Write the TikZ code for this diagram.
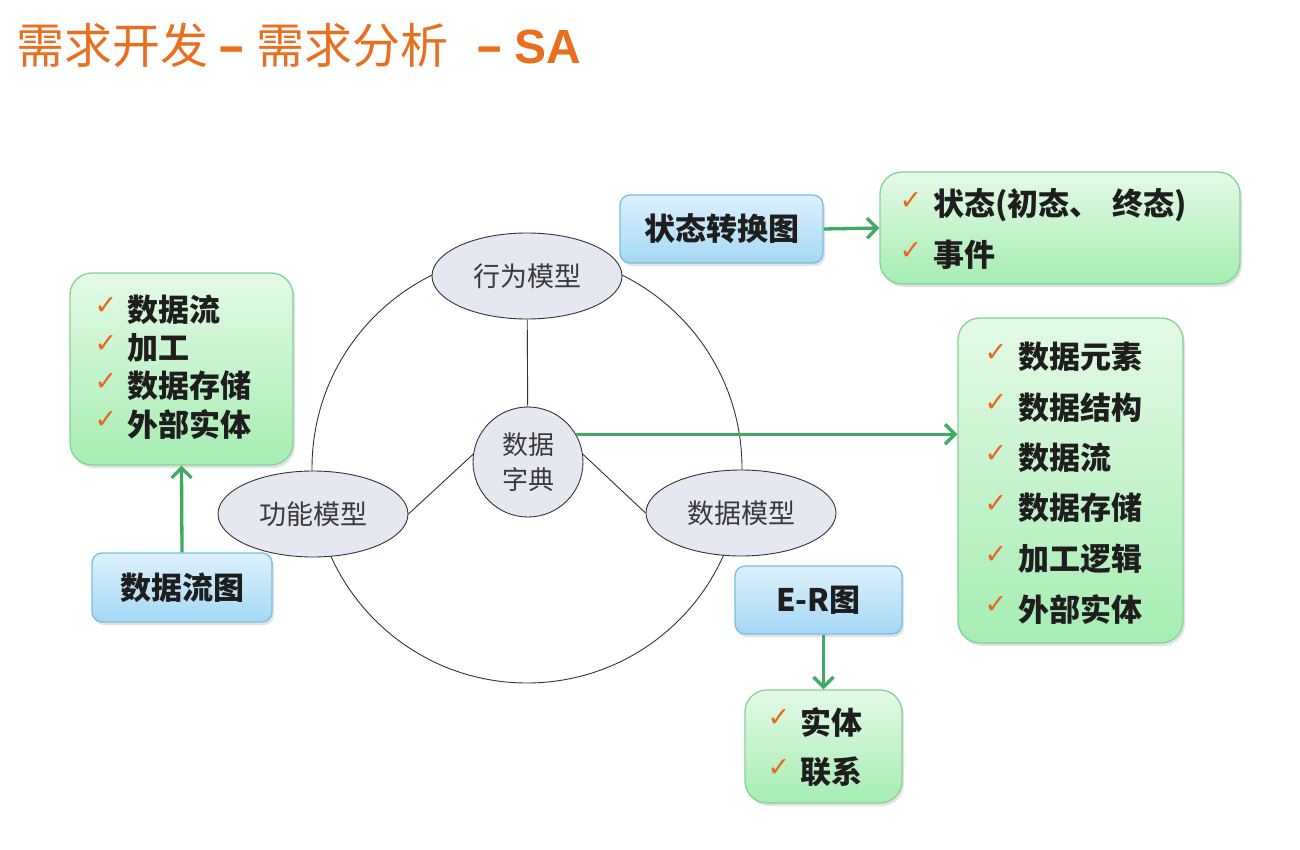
\documentclass[tikz,border=0pt]{standalone}
\usepackage{fontspec}
\setmainfont{Liberation Sans}
\newfontfamily\cjk{Noto Sans CJK SC}
\newfontfamily\symf{DejaVu Sans}
\usetikzlibrary{arrows.meta,shadows,shapes.geometric}
\definecolor{orangeT}{HTML}{EB6E1F}
\definecolor{gtop}{HTML}{E4FAE6}
\definecolor{gbot}{HTML}{A6EDB2}
\definecolor{gborder}{HTML}{86D296}
\definecolor{btop}{HTML}{DDF1FD}
\definecolor{bbot}{HTML}{A4D8F4}
\definecolor{bborder}{HTML}{78BDE6}
\definecolor{arrowG}{HTML}{3FAA62}
\definecolor{ellfill}{HTML}{E6E8F1}
\definecolor{chkC}{HTML}{E8661E}
\definecolor{txtC}{HTML}{1E1E1E}
\definecolor{ellT}{HTML}{3A3A3A}
\begin{document}
\begin{tikzpicture}[x=1pt,y=-1pt,
  gbox/.style={draw=gborder, line width=1.3pt, rounded corners=22pt, top color=gtop, bottom color=gbot,
     drop shadow={opacity=0.22, shadow xshift=2pt, shadow yshift=-3pt}, inner sep=0pt},
  bbox/.style={draw=bborder, line width=1.3pt, rounded corners=10pt, top color=btop, bottom color=bbot,
     drop shadow={opacity=0.22, shadow xshift=2pt, shadow yshift=-3pt}, inner sep=0pt,
     font=\cjk\bfseries\fontsize{31}{36}\selectfont, text=txtC},
  ell/.style={ellipse, draw=black!80, line width=0.9pt, fill=ellfill, minimum width=190pt, minimum height=86pt, inner sep=0pt,
     font=\cjk\fontsize{27}{32}\selectfont, text=ellT},
  itemtxt/.style={anchor=west, inner sep=0pt, font=\cjk\bfseries\fontsize{31}{36}\selectfont, text=txtC},
  chkmark/.style={inner sep=0pt, font=\symf\fontsize{27}{30}\selectfont, text=chkC},
  garrow/.style={draw=arrowG, line width=3.3pt, -{Straight Barb[length=10pt,width=20pt,line width=3.3pt]}},
  spoke/.style={draw=black!80, line width=0.9pt}
]
\useasboundingbox[fill=white] (0,0) rectangle (1300,850);

% title
\node[anchor=west, inner sep=0pt, text=orangeT] (title) at (16,45)
  {\cjk\fontsize{48}{54}\selectfont 需求开发 \textbf{–} 需求分析\hspace{28pt}\textbf{–}\hspace{12pt}{\fontspec{Liberation Sans}\bfseries SA}};

% big circle
\node[circle, draw=black!80, line width=0.9pt, minimum size=430pt, inner sep=0pt] (big) at (527,468) {};

% center and ellipses
\node[ell] (bm) at (527,276) {行为模型};
\node[ell] (fm) at (313,514) {功能模型};
\node[ell] (dm) at (741,513) {数据模型};
\node[circle, draw=black!80, line width=0.9pt, fill=ellfill, minimum size=110pt, inner sep=0pt,
      font=\cjk\fontsize{26}{35}\selectfont, text=ellT, align=center] (dd) at (528,462) {数据\\字典};

\draw[spoke] (bm) -- (dd);
\draw[spoke] (dd.172) -- (fm.east);
\draw[spoke] (dd.8) -- (dm.west);

% left group
\node[gbox, minimum width=223pt, minimum height=192pt] (lbox) at (181.5,369) {};
\foreach \t [count=\i] in {数据流,加工,数据存储,外部实体}{
  \node[chkmark] (lc\i) at (106,{306+38*(\i-1)}) {✓};
  \node[itemtxt] (lt\i) at (127,{310+38*(\i-1)}) {\t};
}
\node[bbox, minimum width=180pt, minimum height=69pt] (dfd) at (182,587.5) {数据流图};
\draw[garrow] (dfd.north) -- (lbox.south);

% top right group
\node[bbox, minimum width=203pt, minimum height=68pt] (std) at (721.5,229) {状态转换图};
\node[gbox, minimum width=360pt, minimum height=112pt] (trbox) at (1060,228) {};
\node[chkmark] (tc1) at (911,201) {✓};
\node[itemtxt] (tt1) at (933,205) {状态(初态、\,\ 终态)};
\node[chkmark] (tc2) at (911,251) {✓};
\node[itemtxt] (tt2) at (933,255) {事件};
\draw[garrow] (std.east) -- (trbox.west);

% right group
\node[gbox, minimum width=225pt, minimum height=325pt] (rbox) at (1070.5,480.5) {};
\foreach \t [count=\i] in {数据元素,数据结构,数据流,数据存储,加工逻辑,外部实体}{
  \node[chkmark] (rc\i) at (996,{353+50.4*(\i-1)}) {✓};
  \node[itemtxt] (rt\i) at (1018,{357+50.4*(\i-1)}) {\t};
}
\coordinate (ddout) at (dd.30);
\draw[garrow] (ddout) -- (ddout -| rbox.west);

% E-R group
\node[bbox, minimum width=167pt, minimum height=68pt] (er) at (818.5,600) {E-R图};
\node[gbox, minimum width=157pt, minimum height=113pt] (erg) at (823.5,746.5) {};
\node[chkmark] (ec1) at (779,718) {✓};
\node[itemtxt] (et1) at (800,722) {实体};
\node[chkmark] (ec2) at (779,768) {✓};
\node[itemtxt] (et2) at (800,772) {联系};
\draw[garrow] (er.south -| erg.north) -- (erg.north);
\end{tikzpicture}
\end{document}
